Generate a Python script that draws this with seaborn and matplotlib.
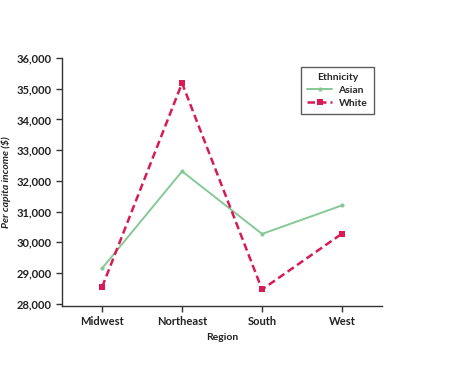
import pandas as pd
import matplotlib.pyplot as plt
import seaborn as sns

regions = ["Midwest", "Northeast", "South", "West"]
asian = [29150, 32310, 30270, 31200]
white = [28540, 35180, 28460, 30280]

df = pd.DataFrame({
    "Region": regions * 2,
    "Income": asian + white,
    "Ethnicity": ["Asian"] * 4 + ["White"] * 4,
})

sns.set_style("ticks")
plt.rcParams['font.family'] = ['Lato', 'DejaVu Sans']

fig = plt.figure(figsize=(4.74, 3.67), dpi=100)
ax = fig.add_axes([0.131, 0.166, 0.675, 0.676])

palette = {"Asian": "#86c996", "White": "#d81b55"}
sns.lineplot(data=df, x="Region", y="Income", hue="Ethnicity", style="Ethnicity",
             palette=palette, markers={"Asian": "o", "White": "s"},
             dashes={"Asian": "", "White": (3, 1.6)}, ax=ax, sort=False, legend=False)
ax.lines[0].set_linewidth(1.4)
ax.lines[0].set_markersize(3)
ax.lines[1].set_linewidth(1.8)
ax.lines[1].set_markersize(4.5)
for ln in ax.lines[:2]:
    ln.set_markeredgewidth(0)

ax.set_xlim(-0.5, 3.5)
ax.set_ylim(27920, 36000)
ax.set_yticks(range(28000, 36001, 1000))
ax.set_yticklabels([f"{v:,}" for v in range(28000, 36001, 1000)])
ax.set_xlabel("Region", fontsize=7.5, fontweight="bold", color="#222222")
ax.set_ylabel("Per capita income ($)", fontsize=7.5, fontweight="bold", color="#222222", style="italic")
ax.tick_params(labelsize=8, length=4, width=1, color="#333333", labelcolor="#222222")
for lbl in ax.get_xticklabels() + ax.get_yticklabels():
    lbl.set_fontweight("bold")
for s in ["left", "bottom"]:
    ax.spines[s].set_color("#333333")
    ax.spines[s].set_linewidth(1)
sns.despine(ax=ax)

leg = ax.legend(ax.lines[:2], ["Asian", "White"], title="Ethnicity", loc="upper right",
                bbox_to_anchor=(0.99, 0.985),
                fontsize=7.5, title_fontsize=7.5, frameon=True, fancybox=False,
                handlelength=2.4, borderpad=0.6, labelspacing=0.35, handletextpad=0.6)
leg.get_frame().set_edgecolor("#333333")
leg.get_frame().set_linewidth(1)
for t in leg.get_texts():
    t.set_fontweight("bold")
leg.get_title().set_fontweight("bold")

fig.savefig("out.png", dpi=100)
